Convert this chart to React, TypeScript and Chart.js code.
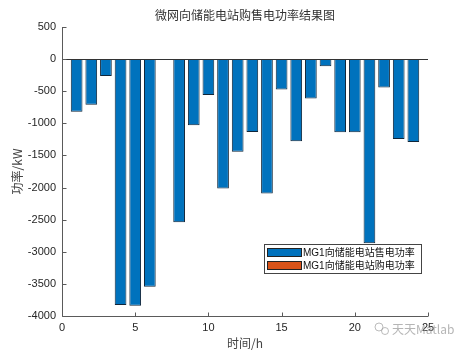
import React, { useEffect, useRef } from "react";
import { Chart, registerables } from "chart.js";

Chart.register(...registerables);

// ---- data ----
const hours = [1, 2, 3, 4, 5, 6, 7, 8, 9, 10, 11, 12, 13, 14, 15, 16, 17, 18, 19, 20, 21, 22, 23, 24];
const sellPower = [-820, -710, -262, -3830, -3840, -3545, -12, -2540, -1030, -557, -2015, -1442, -1135, -2092, -472, -1278, -612, -110, -1140, -1140, -2868, -441, -1242, -1292];
const buyPower = [0, 0, 0, 0, 0, 0, 0, 0, 0, 0, 0, 0, 0, 0, 0, 0, 0, 0, 0, 0, 0, 0, 0, 0];
const yTickValues = [500, 0, -500, -1000, -1500, -2000, -2500, -3000, -3500, -4000];
const xTickValues = [0, 5, 10, 15, 20, 25];
const seriesNames = ["MG1向储能电站售电功率", "MG1向储能电站购电功率"];
const titleText = "微网向储能电站购售电功率结果图";
const xTitle = "时间/h";
const yTitle = "功率/kW";
const watermark = "天天Matlab";

const BLUE = "#0072BD";
const ORANGE = "#D95319";
const AXIS = "#5a5a5a";
const TEXT = "#262626";
const SANS = '"Liberation Sans", Arial, "Noto Sans CJK SC", sans-serif';
const CJK = '"Noto Sans CJK SC", "Liberation Sans", sans-serif';

const decorPlugin = {
  id: "decor",
  beforeDraw(chart: any) {
    const ctx = chart.ctx;
    ctx.save();
    ctx.fillStyle = "#ffffff";
    ctx.fillRect(0, 0, chart.width, chart.height);
    ctx.restore();
  },
  afterDatasetsDraw(chart: any) {
    const ctx = chart.ctx;
    const { left, right, top, bottom } = chart.chartArea;
    const xs = chart.scales.x;
    const ys = chart.scales.y;
    ctx.save();
    // baseline at y = 0
    const y0 = Math.round(ys.getPixelForValue(0)) + 0.5;
    ctx.strokeStyle = "#333333";
    ctx.lineWidth = 1;
    ctx.beginPath();
    ctx.moveTo(left, y0);
    ctx.lineTo(right, y0);
    ctx.stroke();
    // axes
    ctx.strokeStyle = AXIS;
    ctx.beginPath();
    const lx = Math.round(left) + 0.5;
    const by = Math.round(bottom) + 0.5;
    ctx.moveTo(lx, top);
    ctx.lineTo(lx, by);
    ctx.lineTo(right, by);
    ctx.stroke();
    // inward ticks
    ctx.beginPath();
    for (const v of yTickValues) {
      const py = Math.round(ys.getPixelForValue(v)) + 0.5;
      ctx.moveTo(lx, py);
      ctx.lineTo(lx + 4, py);
    }
    for (const v of xTickValues) {
      const px = Math.round(xs.getPixelForValue(v)) + 0.5;
      ctx.moveTo(px, by);
      ctx.lineTo(px, by - 4);
    }
    ctx.stroke();

    // legend
    const lgX = 264, lgY = 244, lgW = 157, lgH = 29;
    ctx.fillStyle = "#ffffff";
    ctx.fillRect(lgX, lgY, lgW, lgH);
    ctx.strokeStyle = "#444444";
    ctx.strokeRect(lgX + 0.5, lgY + 0.5, lgW, lgH);
    const colors = [BLUE, ORANGE];
    seriesNames.forEach((name, i) => {
      const sy = lgY + 4 + i * 13;
      ctx.fillStyle = colors[i];
      ctx.fillRect(lgX + 3, sy, 35, 9);
      ctx.strokeStyle = "#222222";
      ctx.strokeRect(lgX + 3.5, sy + 0.5, 34, 8);
      ctx.fillStyle = "#111111";
      ctx.font = `10px ${SANS}`;
      ctx.textAlign = "left";
      ctx.textBaseline = "middle";
      ctx.fillText(name, lgX + 39, sy + 5, 114);
    });

    // titles
    ctx.fillStyle = "#333333";
    ctx.font = `12px ${CJK}`;
    ctx.textAlign = "center";
    ctx.textBaseline = "middle";
    ctx.fillText(titleText, (left + right) / 2, 15);
    ctx.fillStyle = "#444444";
    ctx.fillText(xTitle, (left + right) / 2, 343);
    ctx.save();
    ctx.translate(17, (top + bottom) / 2);
    ctx.rotate(-Math.PI / 2);
    ctx.fillText(yTitle, 0, 0);
    ctx.restore();

    // watermark
    ctx.fillStyle = "rgba(150,150,150,0.7)";
    ctx.font = `12px ${CJK}`;
    ctx.textAlign = "left";
    ctx.fillText(watermark, 392, 329);
    ctx.strokeStyle = "rgba(160,160,160,0.7)";
    ctx.beginPath();
    ctx.arc(379, 327, 4, 0, Math.PI * 2);
    ctx.stroke();
    ctx.beginPath();
    ctx.arc(385, 331, 3.5, 0, Math.PI * 2);
    ctx.stroke();
    ctx.restore();
  },
};

export default function App() {
  const canvasRef = useRef<HTMLCanvasElement | null>(null);

  useEffect(() => {
    const canvas = canvasRef.current;
    if (!canvas) return;
    const chart = new Chart(canvas, {
      type: "bar",
      data: {
        datasets: [
          {
            label: seriesNames[0],
            data: hours.map((h, i) => ({ x: h, y: sellPower[i] })),
            backgroundColor: BLUE,
            borderColor: "#10263a",
            borderWidth: 1,
            borderSkipped: false,
            grouped: false,
            categoryPercentage: 1,
            barPercentage: 0.8,
          } as any,
          {
            label: seriesNames[1],
            data: hours.map((h, i) => ({ x: h, y: buyPower[i] })),
            backgroundColor: ORANGE,
            borderColor: "#222222",
            borderWidth: 0,
            grouped: false,
            categoryPercentage: 1,
            barPercentage: 0.8,
          } as any,
        ],
      },
      options: {
        responsive: false,
        animation: false,
        devicePixelRatio: 1,
        layout: { padding: { left: 0, top: 27, right: 46, bottom: 0 } },
        plugins: {
          legend: { display: false },
          title: { display: false },
          tooltip: { enabled: false },
        },
        scales: {
          x: {
            type: "linear",
            min: 0,
            max: 25,
            offset: false,
            grid: { display: false, drawTicks: false },
            border: { display: false },
            afterBuildTicks: (scale: any) => {
              scale.ticks = xTickValues.map((v) => ({ value: v }));
            },
            afterFit: (scale: any) => {
              scale.height = 39;
            },
            ticks: {
              padding: 5,
              color: TEXT,
              font: { family: SANS, size: 11 },
              maxRotation: 0,
              callback: (v: any) => String(v),
            },
          },
          y: {
            type: "linear",
            min: -4000,
            max: 500,
            grid: { display: false, drawTicks: false },
            border: { display: false },
            afterBuildTicks: (scale: any) => {
              scale.ticks = yTickValues.map((v) => ({ value: v }));
            },
            afterFit: (scale: any) => {
              scale.width = 62;
            },
            ticks: {
              padding: 6,
              color: TEXT,
              font: { family: SANS, size: 11 },
              callback: (v: any) => String(v),
            },
          },
        },
      } as any,
      plugins: [decorPlugin],
    });
    return () => chart.destroy();
  }, []);

  return (
    <div style={{ position: "absolute", left: 0, top: 0, width: 474, height: 355, background: "#fff" }}>
      <canvas ref={canvasRef} width={474} height={355} style={{ display: "block" }} />
    </div>
  );
}
